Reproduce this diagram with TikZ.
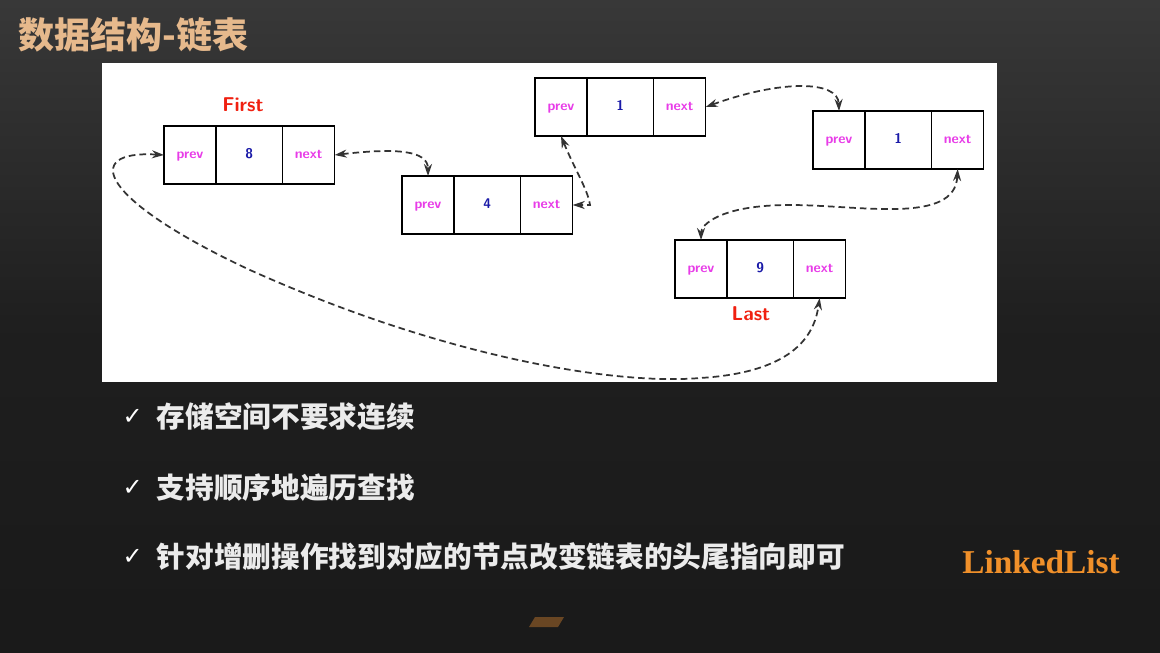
\documentclass[tikz,border=0pt]{standalone}
\usepackage{fontspec}
\usepackage{xcolor}
\usetikzlibrary{positioning,arrows.meta}
\newfontfamily\cjk{Noto Sans CJK SC}
\newfontfamily\symfont{DejaVu Sans}
\newfontfamily\serifb{Liberation Serif}
\definecolor{titletan}{HTML}{E6B98C}
\definecolor{ptrpink}{HTML}{E83CE8}
\definecolor{valblue}{HTML}{1A1AA8}
\definecolor{lblred}{HTML}{F02010}
\definecolor{llorange}{HTML}{F0902A}
\tikzset{
  cell/.style={draw, line width=1.1pt, minimum height=43.5pt, inner sep=0pt, outer sep=0pt,
    text height=7pt, text depth=2pt, font=\sffamily\bfseries\fontsize{10.5}{12}\selectfont},
  ptr/.style={cell, minimum width=39pt, text=ptrpink},
  val/.style={cell, minimum width=50pt, text=valblue},
  link/.style={dash pattern=on 5pt off 3pt, line width=1.3pt, draw=black!80, {Stealth[length=9pt,width=6pt]}-{Stealth[length=9pt,width=6pt]}},
  tag/.style={text=lblred, font=\sffamily\bfseries\fontsize{15}{18}\selectfont},
  bullet/.style={anchor=west, text=white!92!black, font=\cjk\bfseries\fontsize{21.5}{25}\selectfont}
}
\newcommand{\llbox}[4]{%
  \node[ptr, anchor=north west] (#1p) at (#2,#3) {prev};
  \node[val, right=0pt of #1p] (#1v) {#4};
  \node[ptr, right=0pt of #1v] (#1n) {next};
}
\begin{document}
\begin{tikzpicture}[x=0.75pt, y=-0.75pt]
  % background
  \shade[top color=black!78, bottom color=black!90, middle color=black!88] (0,0) rectangle (1160,653);
  \useasboundingbox (0,0) rectangle (1160,653);
  \node[anchor=west, text=titletan, font=\cjk\bfseries\fontsize{27}{30}\selectfont] (title) at (14,35) {数据结构-链表};
  \fill[white] (102,63) rectangle (997,382);

  % list cells
  \llbox{a}{164}{126}{8}
  \llbox{b}{402}{176}{4}
  \llbox{c}{535}{78}{1}
  \llbox{d}{813}{111}{1}
  \llbox{e}{675}{240}{9}

  % labels
  \node[tag] (first) at (243,105) {First};
  \node[tag] (last) at (751,314) {Last};

  % links
  \coordinate (bend) at (590,205);
  \draw[link] (an.east) .. controls (395,148) and (428,150) .. (bp.north);
  \draw[link] (cp.south) .. controls (575,170) and (588,190) .. (bend) -- (bn.east);
  \draw[link] (cn.east) .. controls (780,80) and (838,80) .. (dp.north);
  \draw[link] (dn.south) .. controls (955,225) and (860,205) .. (790,205)
              .. controls (720,205) and (701,225) .. (ep.north);
  \draw[link] (ap.west) .. controls (80,150) and (100,200) .. (250,270)
              .. controls (450,360) and (620,385) .. (700,378)
              .. controls (800,372) and (815,330) .. (en.south);

  % bullets
  \foreach \y/\txt [count=\i] in {417/存储空间不要求连续, 488/支持顺序地遍历查找, 557/针对增删操作找到对应的节点改变链表的头尾指向即可}{
    \node[anchor=west, text=white, font=\symfont\fontsize{18}{20}\selectfont] (tick\i) at (118,\y) {✓};
    \node[bullet] (item\i) at (152,\y) {\txt};
  }
  \node[text=llorange, font=\serifb\bfseries\fontsize{25}{28}\selectfont] (ll) at (1041,562) {LinkedList};
  \fill[black!45!brown] (535,617) -- (564,617) -- (558,627) -- (529,627) -- cycle;
\end{tikzpicture}
\end{document}
